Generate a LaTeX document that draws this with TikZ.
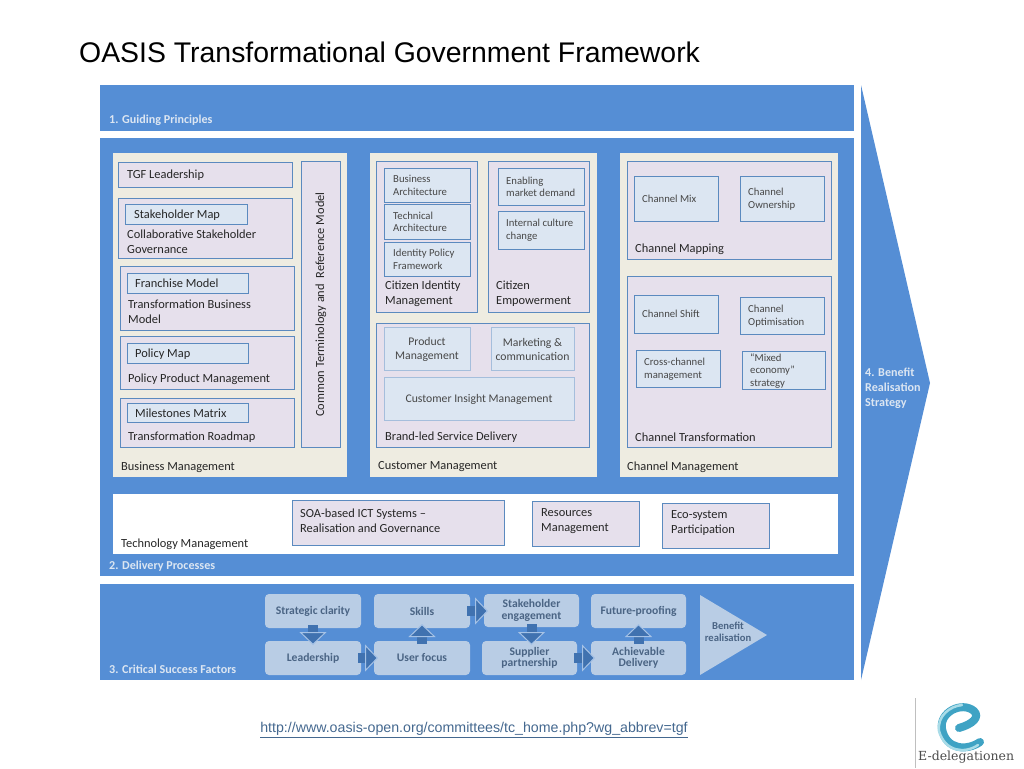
\documentclass[tikz,border=0pt]{standalone}
\usepackage{fontspec}
\setmainfont{Carlito}
\newfontfamily\arialfont{Liberation Sans}
\newfontfamily\slabfont{DejaVu Serif}
\usetikzlibrary{arrows.meta,fit}
\definecolor{panelblue}{HTML}{558ED5}
\definecolor{cream}{HTML}{EEECE1}
\definecolor{lilac}{HTML}{E6E0EC}
\definecolor{paleblue}{HTML}{DCE6F2}
\definecolor{edgeblue}{HTML}{5B8ABF}
\definecolor{softedge}{HTML}{A5BEDC}
\definecolor{factorblue}{HTML}{B9CDE5}
\definecolor{factortext}{HTML}{4A6484}
\definecolor{arrowblue}{HTML}{4072B0}
\definecolor{arrowrim}{HTML}{A5C2E6}
\definecolor{inktext}{HTML}{262626}
\definecolor{swirlblue}{HTML}{3FA3C4}
\definecolor{swirllight}{HTML}{A9DCE8}
\tikzset{
    panel/.style={fill=panelblue,inner sep=0pt,outer sep=0pt},
    backing/.style={fill=cream,inner sep=0pt,outer sep=0pt},
    lilacbox/.style={fill=lilac,draw=edgeblue,line width=.9pt,inner sep=0pt,outer sep=0pt},
    bluebox/.style={fill=paleblue,draw=edgeblue,line width=.9pt,inner sep=0pt,outer sep=0pt},
    softbox/.style={fill=paleblue,draw=softedge,line width=.7pt,inner sep=0pt,outer sep=0pt},
    bigtext/.style={font=\fontsize{12.4}{15}\selectfont,text=inktext,anchor=west,align=left,inner sep=0pt,yshift=-1pt},
    smalltext/.style={font=\fontsize{10.7}{12.6}\selectfont,text=inktext!85,anchor=west,align=left,inner sep=0pt},
    softtext/.style={font=\fontsize{11.7}{14}\selectfont,text=inktext!85,align=center,inner sep=0pt},
    headtext/.style={font=\fontsize{12.1}{15}\selectfont\bfseries,text=paleblue,anchor=west,align=left,inner sep=0pt,yshift=-1pt},
    factor/.style={fill=factorblue,rounded corners=4pt,inner sep=0pt,outer sep=0pt,
        font=\fontsize{11.6}{11.5}\selectfont\bfseries,text=factortext,align=center},
    flowarrow/.style={line width=10pt,arrowblue,shorten >=-4pt,shorten <=-3pt,
        -{Triangle[length=13pt,width=27pt,color=arrowrim,fill=arrowblue,line width=1pt]}},
}
\begin{document}
\begin{tikzpicture}[x=1pt,y=-1pt]
    \useasboundingbox (0,0) rectangle (1024,768);
    \node[font=\fontsize{28.4}{30}\arialfont,anchor=west,inner sep=0pt] (title) at (79,52) {OASIS Transformational Government Framework};
    \begin{scope}[every node/.style={panel}]
        \node[fit={(100,85) (854,131)}] (guiding) {};
        \node[fit={(100,138) (854,576)}] (delivery) {};
        \node[fit={(100,584) (854,680)}] (critical) {};
    \end{scope}
    \fill[panelblue] (861,85) -- (930,383) -- (861,680) -- cycle;
    \begin{scope}[every node/.style={backing}]
        \node[fit={(113,153) (347,477)}] (business) {};
        \node[fit={(370,153) (597,477)}] (customer) {};
        \node[fit={(620,153) (838,477)}] (channel) {};
    \end{scope}
    \node[fill=white,inner sep=0pt,fit={(113,494) (838,554)}] (technology) {};
    \begin{scope}[every node/.style={lilacbox}]
        \node[fit={(118,162) (292,187)}] (tgf) {};
        \node[fit={(118,198) (292,258)}] (collab) {};
        \node[fit={(120,266) (294,330)}] (transbus) {};
        \node[fit={(120,336) (294,389)}] (polprod) {};
        \node[fit={(120,398) (294,447)}] (roadmap) {};
        \node[fit={(301,161) (340,447)}] (common) {};
        \node[fit={(376,161) (477,312)}] (identity) {};
        \node[fit={(488,161) (589,312)}] (empower) {};
        \node[fit={(376,323) (589,447)}] (brand) {};
        \node[fit={(627,161) (831,259)}] (mapping) {};
        \node[fit={(627,276) (831,447)}] (transform) {};
        \node[fit={(292,500) (504,545)}] (soa) {};
        \node[fit={(532,501) (639,546)}] (resources) {};
        \node[fit={(662,503) (769,548)}] (ecosystem) {};
    \end{scope}
    \begin{scope}[every node/.style={bluebox}]
        \node[fit={(125,204) (247,224)}] (stakemap) {};
        \node[fit={(127,273) (248,293)}] (franchise) {};
        \node[fit={(127,343) (248,363)}] (polmap) {};
        \node[fit={(127,403) (248,422)}] (milestones) {};
        \node[fit={(384,168) (470,202)}] (busarch) {};
        \node[fit={(384,204) (470,239)}] (techarch) {};
        \node[fit={(384,242) (470,276)}] (idpolicy) {};
        \node[fit={(498,168) (584,205)}] (enabling) {};
        \node[fit={(498,211) (584,249)}] (culture) {};
        \node[fit={(634,176) (718,221)}] (mix) {};
        \node[fit={(740,176) (824,221)}] (owner) {};
        \node[fit={(634,295) (718,333)}] (shift) {};
        \node[fit={(740,297) (824,334)}] (optim) {};
        \node[fit={(636,350) (720,387)}] (cross) {};
        \node[fit={(742,351) (825,389)}] (mixed) {};
    \end{scope}
    \begin{scope}[every node/.style={softbox}]
        \node[fit={(384,327) (470,370)}] (product) {};
        \node[fit={(491,327) (574,370)}] (marketing) {};
        \node[fit={(384,377) (574,420)}] (insight) {};
    \end{scope}
    \begin{scope}[every node/.style={bigtext}]
        \node (tgftxt) at (127,174.5) {TGF Leadership};
        \node (stakemaptxt) at (134,214) {Stakeholder Map};
        \node (collabtxt) at (127,240.5) {Collaborative Stakeholder\\Governance};
        \node (franchisetxt) at (135,282) {Franchise Model};
        \node (transbustxt) at (128,311) {Transformation Business\\Model};
        \node (polmaptxt) at (135,353) {Policy Map};
        \node (polprodtxt) at (128,378) {Policy Product Management};
        \node (milestonestxt) at (135,412.5) {Milestones Matrix};
        \node (roadmaptxt) at (128,436) {Transformation Roadmap};
        \node (businesstxt) at (121,466) {Business Management};
        \node[rotate=90,anchor=center] (commontxt) at (321,303.5) {Common Terminology and\ \ Reference Model};
        \node (identitytxt) at (385,293) {Citizen Identity\\Management};
        \node (empowertxt) at (496,293) {Citizen\\Empowerment};
        \node (brandtxt) at (385,436) {Brand-led Service Delivery};
        \node (customertxt) at (378,466) {Customer Management};
        \node (mappingtxt) at (635,248) {Channel Mapping};
        \node (transformtxt) at (635,436) {Channel Transformation};
        \node (channeltxt) at (627,466) {Channel Management};
        \node (soatxt) at (300,520) {SOA-based ICT Systems --\\Realisation and Governance};
        \node (resourcestxt) at (541,520) {Resources\\Management};
        \node (ecosystemtxt) at (671,522) {Eco-system\\Participation};
        \node (technologytxt) at (121,543) {Technology Management};
    \end{scope}
    \begin{scope}[every node/.style={smalltext}]
        \node (busarchtxt) at (393,185.5) {Business\\Architecture};
        \node (techarchtxt) at (393,222) {Technical\\Architecture};
        \node (idpolicytxt) at (393,259.5) {Identity Policy\\Framework};
        \node (enablingtxt) at (506,187) {Enabling\\market demand};
        \node (culturetxt) at (506,230.5) {Internal culture\\change};
        \node (mixtxt) at (642,199) {Channel Mix};
        \node (ownertxt) at (748,199) {Channel\\Ownership};
        \node (shifttxt) at (642,314) {Channel Shift};
        \node (optimtxt) at (748,316) {Channel\\Optimisation};
        \node (crosstxt) at (644,369) {Cross-channel\\management};
        \node (mixedtxt) at (750,371) {``Mixed\\economy''\\strategy};
    \end{scope}
    \begin{scope}[every node/.style={softtext}]
        \node (producttxt) at (427,349) {Product\\Management};
        \node (marketingtxt) at (532.5,349) {Marketing \&\\communication};
        \node (insighttxt) at (479,399) {Customer Insight Management};
    \end{scope}
    \begin{scope}[every node/.style={headtext}]
        \node (guidingtxt) at (109,119) {1. Guiding Principles};
        \node (deliverytxt) at (109,565) {2. Delivery Processes};
        \node (criticaltxt) at (109,668) {3. Critical Success Factors};
        \node (benefittxt) at (865,387) {4. Benefit\\Realisation\\Strategy};
    \end{scope}
    \begin{scope}[every node/.style={factor}]
        \node[fit={(265,594) (361,628)}] (clarity) {};
        \node at (clarity) (claritytxt) {Strategic clarity};
        \node[fit={(265,641) (361,675)}] (leadership) {};
        \node at (leadership) (leadershiptxt) {Leadership};
        \node[fit={(374,594) (470,628)}] (skills) {};
        \node at (skills) (skillstxt) {Skills};
        \node[fit={(374,641) (470,675)}] (userfocus) {};
        \node at (userfocus) (userfocustxt) {User focus};
        \node[fit={(484,594) (579,627)}] (engagement) {};
        \node at (engagement) (engagementtxt) {Stakeholder\\engagement};
        \node[fit={(482,641) (577,675)}] (supplier) {};
        \node at (supplier) (suppliertxt) {Supplier\\partnership};
        \node[fit={(591,594) (686,628)}] (future) {};
        \node at (future) (futuretxt) {Future-proofing};
        \node[fit={(591,641) (686,675)}] (achievable) {};
        \node at (achievable) (achievabletxt) {Achievable\\Delivery};
    \end{scope}
    \fill[factorblue] (700,595) -- (767,635) -- (700,675) -- cycle;
    \node[font=\fontsize{10.6}{12}\selectfont\bfseries,text=factortext,align=center,inner sep=0pt] (realisation) at (728,632) {Benefit\\realisation};
    \begin{scope}[every edge/.style={draw,flowarrow}]
        \path
            (clarity.south) edge (leadership.north)
            (leadership.east) edge (userfocus.west)
            (userfocus.north) edge (skills.south)
            (skills.east) edge (skills.east -| engagement.west)
            (engagement.south) edge (engagement.south |- supplier.north)
            (supplier.east) edge (achievable.west)
            (achievable.north) edge (future.south);
    \end{scope}
    \node[font=\fontsize{14.2}{15}\arialfont,text=edgeblue!75!black,inner sep=0pt] (link) at (474,730) {\underline{http://www.oasis-open.org/committees/tc\_home.php?wg\_abbrev=tgf}};
    \draw[black!25,line width=.7pt] (915,698) -- (915,768);
    \draw[swirlblue,line width=8pt,line cap=round] (980,742) .. controls (967,751) and (946,750) .. (942,729) .. controls (939,712) and (962,701) .. (974,711) .. controls (980,717) and (973,724) .. (959,728);
    \draw[swirllight,line width=2.5pt,line cap=round] (978,745) .. controls (965,754) and (945,752) .. (939,731) .. controls (937,716) and (950,706) .. (962,705);
    \node[font=\fontsize{12.5}{15}\slabfont,text=black!70,anchor=west,inner sep=0pt] (brandname) at (918,757) {E-delegationen};
\end{tikzpicture}
\end{document}
